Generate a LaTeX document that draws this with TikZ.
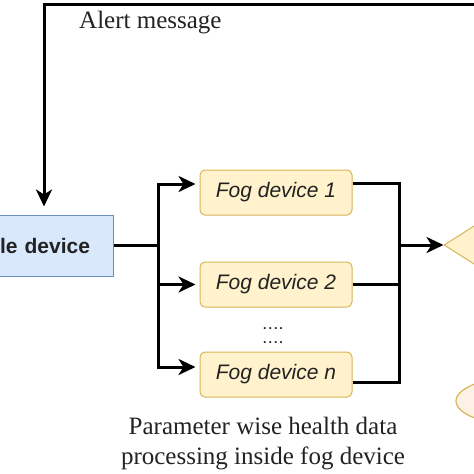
\documentclass[tikz,border=0pt]{standalone}
\usepackage{fontspec}
\setmainfont{Liberation Serif}
\newfontfamily\sansf{Liberation Sans}
\usetikzlibrary{arrows.meta,shapes.geometric}
\definecolor{bluefill}{HTML}{DAE8FC}
\definecolor{blueline}{HTML}{6C8EBF}
\definecolor{yelfill}{HTML}{FFF2CC}
\definecolor{yelline}{HTML}{D6B656}
\definecolor{peachfill}{HTML}{FDF1E6}
\definecolor{txt}{HTML}{222222}
\newcommand{\fourdots}{.\kern2pt.\kern2pt.\kern2pt.}
\tikzset{
  ln/.style={line width=3pt, black},
  arr/.style={ln, -{Stealth[length=17pt,width=16pt,inset=5pt]}},
  fogbox/.style={draw=yelline, fill=yelfill, line width=1pt, rounded corners=5pt,
    minimum width=152pt, minimum height=45pt, inner sep=0pt,
    font=\sansf\itshape\fontsize{21pt}{25pt}\selectfont, text=txt},
  wearbox/.style={draw=blueline, fill=bluefill, line width=1pt,
    minimum width=138pt, minimum height=61pt, inner ysep=0pt, inner xsep=23pt,
    text width=92pt, align=right,
    font=\sansf\bfseries\fontsize{21pt}{25pt}\selectfont, text=txt},
  serif/.style={font=\fontsize{25pt}{30pt}\selectfont, text=txt},
  dots/.style={font=\sansf\bfseries\fontsize{12.5pt}{14pt}\selectfont, text=txt,
    inner sep=0pt}
}
\begin{document}
\begin{tikzpicture}[x=1pt,y=-1pt]
\useasboundingbox (0,0) rectangle (474,474);
\clip (0,0) rectangle (474,474);
% nodes
\node[wearbox] (wear) at (44,245.5) {le device};
\node[fogbox] (fog1) at (276,192.5) {Fog device 1};
\node[fogbox] (fog2) at (276,284.5) {Fog device 2};
\node[fogbox] (fogn) at (276,374.5) {Fog device n};
\node[diamond, draw=yelline, fill=yelfill, line width=1pt, inner sep=0pt,
  minimum width=140pt, minimum height=89pt] (dec) at (514,245) {};
\node[ellipse, draw=yelline, fill=peachfill, line width=1.2pt, inner sep=0pt,
  minimum width=128pt, minimum height=48pt] (ell) at (520,401) {};
\node[dots, anchor=base] (d1) at (273,329.5) {\fourdots};
\node[dots, anchor=base] (d2) at (273,343.5) {\fourdots};
\node[serif, anchor=base west, inner sep=0pt] (alert) at (79,28) {Alert message};
\node[serif, align=center, inner sep=0pt] (cap) at (263,444)
  {Parameter wise health data\\processing inside fog device};
% connectors
\coordinate (ae) at (480,4);
\coordinate (lt) at (158,245.5);
\coordinate (rt) at (399,245);
\draw[arr, shorten >=8pt] (ae) -| (wear.north);
\draw[ln] (wear.east) -- (lt);
\draw[arr, shorten >=4pt] (lt) |- ([yshift=8.5pt]fog1.west);
\draw[arr, shorten >=4pt] (lt) |- (fog2.west);
\draw[arr, shorten >=4pt] (lt) |- ([yshift=7.5pt]fogn.west);
\draw[ln] ([yshift=9.5pt]fog1.east) -| (rt);
\draw[ln] (fog2.east) -| (rt);
\draw[ln] ([yshift=-7.5pt]fogn.east) -| (rt);
\draw[arr] (rt) -- (dec.west);
\end{tikzpicture}
\end{document}
